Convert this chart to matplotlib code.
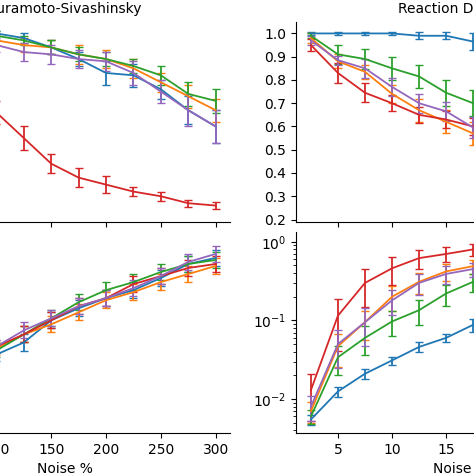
import numpy as np
import matplotlib
matplotlib.use("Agg")
import matplotlib.pyplot as plt

colors = ["#1f77b4", "#ff7f0e", "#2ca02c", "#d62728", "#9467bd"]
order = ["blue", "orange", "green", "red", "purple"]

ks_x = [25, 50, 75, 100, 125, 150, 175, 200, 225, 250, 275, 300]
ks_top = {
    "blue":   [1.0, 1.0, 1.0, 1.0, 0.98, 0.94, 0.89, 0.83, 0.82, 0.76, 0.67, 0.60],
    "orange": [1.0, 1.0, 0.99, 0.97, 0.95, 0.94, 0.91, 0.89, 0.85, 0.79, 0.73, 0.67],
    "green":  [1.0, 1.0, 1.0, 0.99, 0.97, 0.94, 0.91, 0.89, 0.86, 0.82, 0.74, 0.71],
    "red":    [0.99, 0.95, 0.82, 0.66, 0.55, 0.44, 0.38, 0.35, 0.32, 0.30, 0.27, 0.26],
    "purple": [1.0, 0.99, 0.97, 0.95, 0.92, 0.91, 0.89, 0.88, 0.83, 0.75, 0.67, 0.60],
}
ks_top_err = {
    "blue":   [0.01, 0.01, 0.01, 0.01, 0.02, 0.03, 0.03, 0.05, 0.05, 0.04, 0.06, 0.07],
    "orange": [0.01, 0.01, 0.02, 0.02, 0.03, 0.03, 0.04, 0.04, 0.04, 0.04, 0.05, 0.05],
    "green":  [0.01, 0.01, 0.01, 0.02, 0.02, 0.03, 0.03, 0.03, 0.03, 0.04, 0.05, 0.05],
    "red":    [0.02, 0.03, 0.04, 0.05, 0.05, 0.04, 0.04, 0.035, 0.02, 0.02, 0.015, 0.015],
    "purple": [0.01, 0.02, 0.02, 0.03, 0.04, 0.04, 0.04, 0.04, 0.05, 0.05, 0.07, 0.07],
}
ks_bot = {
    "blue":   [0.14, 0.24, 0.32, 0.39, 0.45, 0.56, 0.62, 0.67, 0.71, 0.77, 0.84, 0.87],
    "orange": [0.15, 0.25, 0.34, 0.42, 0.49, 0.54, 0.60, 0.66, 0.70, 0.75, 0.79, 0.83],
    "green":  [0.15, 0.25, 0.34, 0.41, 0.49, 0.57, 0.65, 0.71, 0.75, 0.80, 0.84, 0.86],
    "red":    [0.16, 0.26, 0.35, 0.43, 0.49, 0.56, 0.63, 0.67, 0.74, 0.78, 0.82, 0.84],
    "purple": [0.16, 0.26, 0.35, 0.43, 0.51, 0.57, 0.63, 0.67, 0.72, 0.78, 0.85, 0.89],
}
ks_bot_err = {k: [0.03, 0.03, 0.03, 0.03, 0.04, 0.04, 0.04, 0.04, 0.04, 0.04, 0.04, 0.04] for k in order}

rd_x = [2.5, 5, 7.5, 10, 12.5, 15, 17.5, 20, 22.5, 25, 27.5, 30]
rd_top = {
    "blue":   [1.0, 1.0, 1.0, 1.0, 0.99, 0.99, 0.965, 0.95, 0.93, 0.91, 0.89, 0.87],
    "orange": [0.98, 0.88, 0.835, 0.74, 0.67, 0.62, 0.57, 0.53, 0.49, 0.46, 0.43, 0.40],
    "green":  [0.99, 0.91, 0.89, 0.85, 0.815, 0.745, 0.70, 0.66, 0.62, 0.58, 0.55, 0.52],
    "red":    [0.95, 0.83, 0.745, 0.70, 0.65, 0.63, 0.60, 0.57, 0.54, 0.51, 0.48, 0.45],
    "purple": [0.97, 0.885, 0.85, 0.77, 0.70, 0.665, 0.595, 0.55, 0.51, 0.48, 0.45, 0.42],
}
rd_top_err = {
    "blue":   [0.005, 0.005, 0.005, 0.005, 0.015, 0.015, 0.035, 0.03, 0.03, 0.03, 0.03, 0.03],
    "orange": [0.02, 0.03, 0.03, 0.04, 0.05, 0.05, 0.05, 0.05, 0.05, 0.05, 0.05, 0.05],
    "green":  [0.01, 0.04, 0.045, 0.05, 0.05, 0.055, 0.055, 0.05, 0.05, 0.05, 0.05, 0.05],
    "red":    [0.025, 0.045, 0.04, 0.035, 0.035, 0.035, 0.035, 0.035, 0.035, 0.035, 0.035, 0.035],
    "purple": [0.02, 0.02, 0.04, 0.04, 0.04, 0.04, 0.045, 0.045, 0.045, 0.045, 0.045, 0.045],
}
rd_bot = {
    "blue":   [0.0055, 0.0125, 0.021, 0.031, 0.046, 0.06, 0.088, 0.12, 0.15, 0.19, 0.23, 0.27],
    "orange": [0.007, 0.047, 0.095, 0.20, 0.31, 0.42, 0.49, 0.56, 0.62, 0.67, 0.72, 0.76],
    "green":  [0.006, 0.034, 0.06, 0.097, 0.135, 0.22, 0.31, 0.38, 0.45, 0.51, 0.56, 0.61],
    "red":    [0.013, 0.115, 0.30, 0.46, 0.62, 0.70, 0.80, 0.86, 0.90, 0.93, 0.95, 0.97],
    "purple": [0.008, 0.05, 0.095, 0.18, 0.30, 0.39, 0.45, 0.52, 0.58, 0.63, 0.68, 0.72],
}
rd_bot_rel = {
    "blue":   [0.15, 0.15, 0.15, 0.12, 0.15, 0.12, 0.2, 0.2, 0.2, 0.2, 0.2, 0.2],
    "orange": [0.3, 0.45, 0.4, 0.35, 0.3, 0.25, 0.2, 0.2, 0.2, 0.2, 0.2, 0.2],
    "green":  [0.2, 0.4, 0.4, 0.35, 0.35, 0.3, 0.25, 0.2, 0.2, 0.2, 0.2, 0.2],
    "red":    [0.6, 0.65, 0.5, 0.38, 0.28, 0.22, 0.18, 0.18, 0.18, 0.18, 0.18, 0.18],
    "purple": [0.35, 0.5, 0.5, 0.35, 0.3, 0.25, 0.2, 0.2, 0.2, 0.2, 0.2, 0.2],
}

fig = plt.figure(figsize=(4.74, 4.74), dpi=100)
W = 0.696
axTL = fig.add_axes([-0.211, 0.532, W, 0.422])
axBL = fig.add_axes([-0.211, 0.0865, W, 0.4245])
axTR = fig.add_axes([0.624, 0.532, W, 0.422])
axBR = fig.add_axes([0.624, 0.0865, W, 0.4245])

def draw(ax, x, vals, errs, rel=False):
    for name, c in zip(order, colors):
        v = np.array(vals[name]); e = np.array(errs[name])
        if rel:
            e = v * e
        ax.errorbar(x, v, yerr=e, color=c, capsize=3, lw=1.3, elinewidth=1.3)
    ax.spines["top"].set_visible(False)
    ax.spines["right"].set_visible(False)

draw(axTL, ks_x, ks_top, ks_top_err)
draw(axBL, ks_x, ks_bot, ks_bot_err)
draw(axTR, rd_x, rd_top, rd_top_err)
draw(axBR, rd_x, rd_bot, rd_bot_rel, rel=True)

for ax in (axTL, axBL):
    ax.set_xlim(12, 313)
    ax.set_xticks([50, 100, 150, 200, 250, 300])
    ax.tick_params(labelleft=False)
for ax in (axTR, axBR):
    ax.set_xlim(1.1, 31.6)
    ax.set_xticks([5, 10, 15, 20, 25, 30])
axTL.set_ylim(0.19, 1.05)
axTR.set_ylim(0.19, 1.05)
axTR.set_yticks([0.2, 0.3, 0.4, 0.5, 0.6, 0.7, 0.8, 0.9, 1.0])
axBL.set_ylim(0.0, 1.0)
axBR.set_yscale("log")
axBR.set_ylim(0.0037, 1.34)
axTL.tick_params(labelbottom=False)
axTR.tick_params(labelbottom=False)
axTL.set_title("Kuramoto-Sivashinsky", fontsize=10)
axTR.set_title("Reaction Diffusion", fontsize=10)
axBL.set_xlabel("Noise %")
axBR.set_xlabel("Noise %")

fig.savefig("out.png", dpi=100)
